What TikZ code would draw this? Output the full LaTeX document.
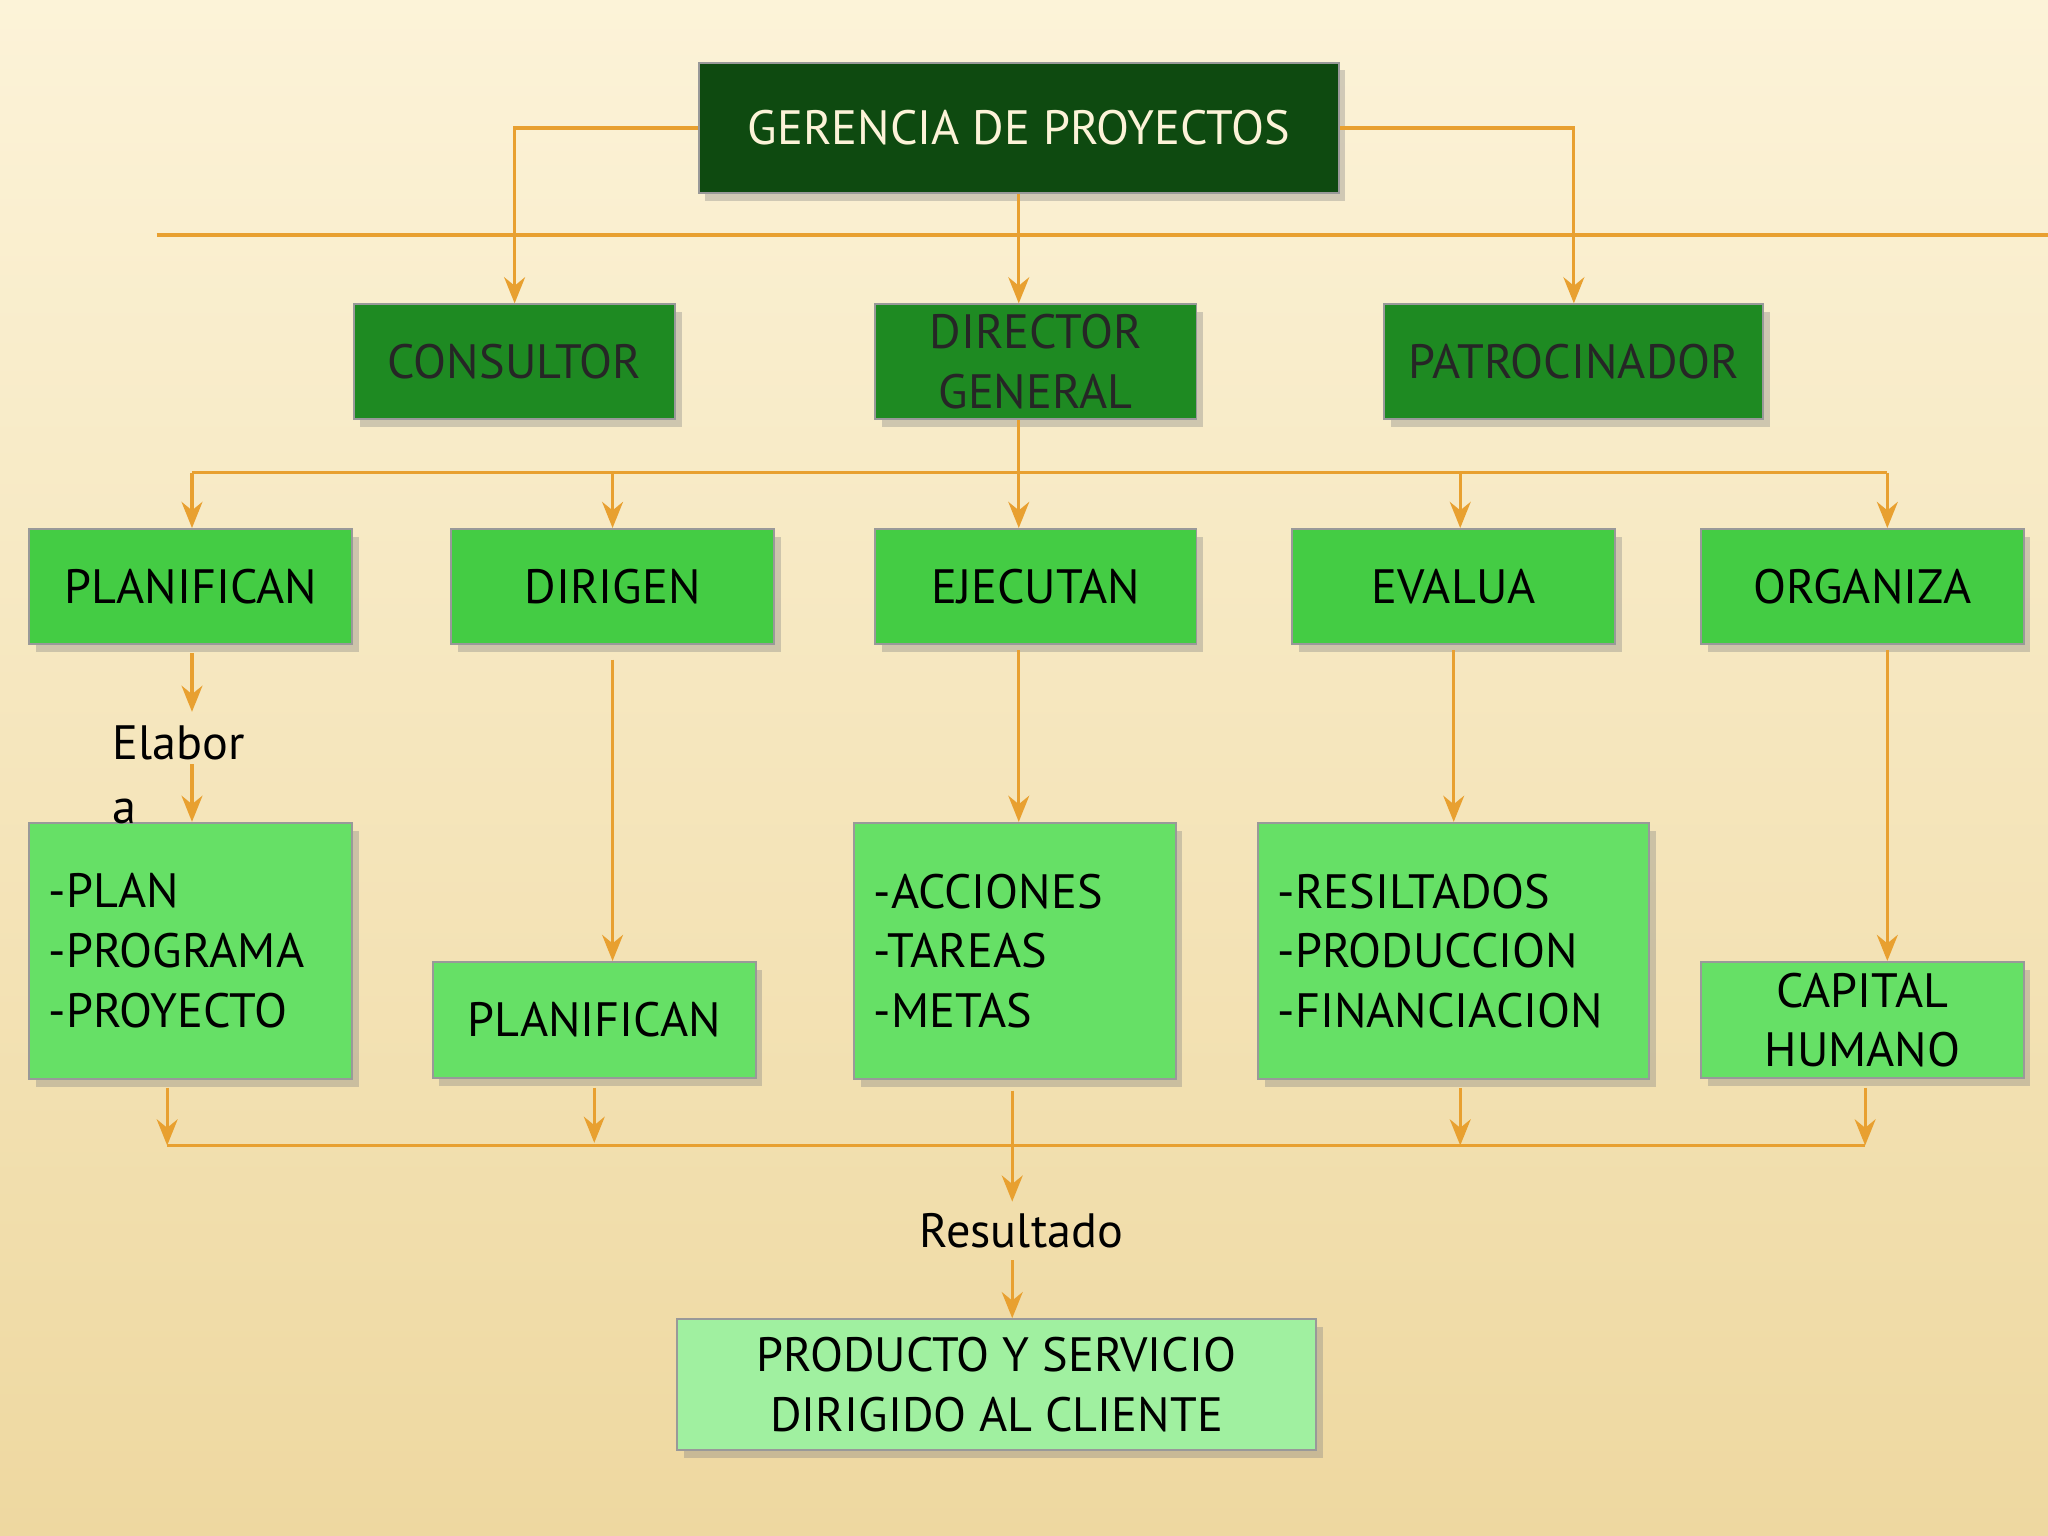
\documentclass[tikz,border=0pt]{standalone}
\usepackage{fontspec}
\setmainfont{PT Sans}
\usetikzlibrary{shadows,arrows.meta}
\definecolor{bgtop}{HTML}{FCF3D8}
\definecolor{bgbot}{HTML}{EED8A0}
\definecolor{conn}{HTML}{E8A030}
\definecolor{dk}{HTML}{0E4A10}
\definecolor{md}{HTML}{1E8A22}
\definecolor{br}{HTML}{44CC44}
\definecolor{lt}{HTML}{66E066}
\definecolor{vl}{HTML}{A0F0A0}
\tikzset{
 bx/.style={draw=black!40,line width=0.4pt,drop shadow={opacity=0.35,shadow xshift=0.5mm,shadow yshift=-0.6mm},inner sep=0pt,font=\fontsize{10.5pt}{13pt}\selectfont,align=center},
 cn/.style={draw=conn,line width=0.7pt},
 ar/.style={cn,-{Stealth[length=2mm,width=1.6mm]}},
 lb/.style={font=\fontsize{10.5pt}{13pt}\selectfont,text=black}
}
\begin{document}
\begin{tikzpicture}[x=0.01cm,y=-0.01cm]
\useasboundingbox (0,0) rectangle (1568,1176);
\shade[top color=bgtop,bottom color=bgbot] (0,0) rectangle (1568,1176);
% boxes
\node[bx,fill=dk,text=bgtop,minimum width=4.9cm,minimum height=1cm] (ger) at (780,98) {GERENCIA DE PROYECTOS};
\node[bx,fill=md,text=black!85,minimum width=2.46cm,minimum height=0.88cm] (con) at (394,277) {CONSULTOR};
\node[bx,fill=md,text=black!85,minimum width=2.46cm,minimum height=0.88cm] (dir) at (793,277) {DIRECTOR\\GENERAL};
\node[bx,fill=md,text=black!85,minimum width=2.9cm,minimum height=0.88cm] (pat) at (1205,277) {PATROCINADOR};
\node[bx,fill=br,minimum width=2.47cm,minimum height=0.88cm] (pla) at (146,449) {PLANIFICAN};
\node[bx,fill=br,minimum width=2.47cm,minimum height=0.88cm] (dig) at (469,449) {DIRIGEN};
\node[bx,fill=br,minimum width=2.46cm,minimum height=0.88cm] (eje) at (793,449) {EJECUTAN};
\node[bx,fill=br,minimum width=2.47cm,minimum height=0.88cm] (eva) at (1113,449) {EVALUA};
\node[bx,fill=br,minimum width=2.47cm,minimum height=0.88cm] (org) at (1426,449) {ORGANIZA};
\node[bx,fill=lt,minimum width=2.47cm,minimum height=1.96cm,align=left,text width=2.17cm] (plan) at (146,728) {-PLAN\\-PROGRAMA\\-PROYECTO};
\node[bx,fill=lt,minimum width=2.47cm,minimum height=0.89cm] (pl2) at (455,781) {PLANIFICAN};
\node[bx,fill=lt,minimum width=2.46cm,minimum height=1.96cm,align=left,text width=2.16cm] (acc) at (777,728) {-ACCIONES\\-TAREAS\\-METAS};
\node[bx,fill=lt,minimum width=2.99cm,minimum height=1.96cm,align=left,text width=2.69cm] (res) at (1113,728) {-RESILTADOS\\-PRODUCCION\\-FINANCIACION};
\node[bx,fill=lt,minimum width=2.47cm,minimum height=0.89cm] (cap) at (1426,781) {CAPITAL\\HUMANO};
\node[bx,fill=vl,minimum width=4.89cm,minimum height=1cm] (prod) at (763,1060) {PRODUCTO Y SERVICIO\\DIRIGIDO AL CLIENTE};
% connectors top
\draw[cn] (120,180) -- (1568,180);
\draw[ar] (ger.west) -| (con.north);
\draw[ar] (ger.east) -| (pat.north);
\draw[ar] (ger.south -| 780,0) -- (dir.north -| 780,0);
\draw[ar] (dir.south -| 780,0) -- (eje.north -| 780,0);
\draw[cn] (147,362) -- (1445,362);
\draw[ar] (147,362) -- (pla.north -| 147,0);
\draw[ar] (469,362) -- (dig.north -| 469,0);
\draw[ar] (1118,362) -- (eva.north -| 1118,0);
\draw[ar] (1445,362) -- (org.north -| 1445,0);
% middle
\coordinate (e1) at (147,545);
\draw[ar] (147,500) -- (e1);
\node[lb,anchor=north west,align=left] (elab) at (74,543) {Elabor\\[1pt]a};
\draw[ar] (147,585) -- (plan.north -| 147,0);
\draw[ar] (469,505) -- (pl2.north -| 469,0);
\draw[ar] (780,498) -- (acc.north -| 780,0);
\draw[ar] (1113,498) -- (res.north -| 1113,0);
\draw[ar] (1445,498) -- (cap.north -| 1445,0);
% bottom
\draw[ar] (128,833) -- (128,877);
\draw[ar] (455,833) -- (455,875);
\draw[ar] (1118,833) -- (1118,877);
\draw[ar] (1428,833) -- (1428,877);
\draw[cn] (128,877) -- (1428,877);
\node[lb] (resu) at (782,942) {Resultado};
\draw[ar] (775,835) -- (775,920);
\draw[ar] (775,965) -- (prod.north -| 775,0);
\end{tikzpicture}
\end{document}
